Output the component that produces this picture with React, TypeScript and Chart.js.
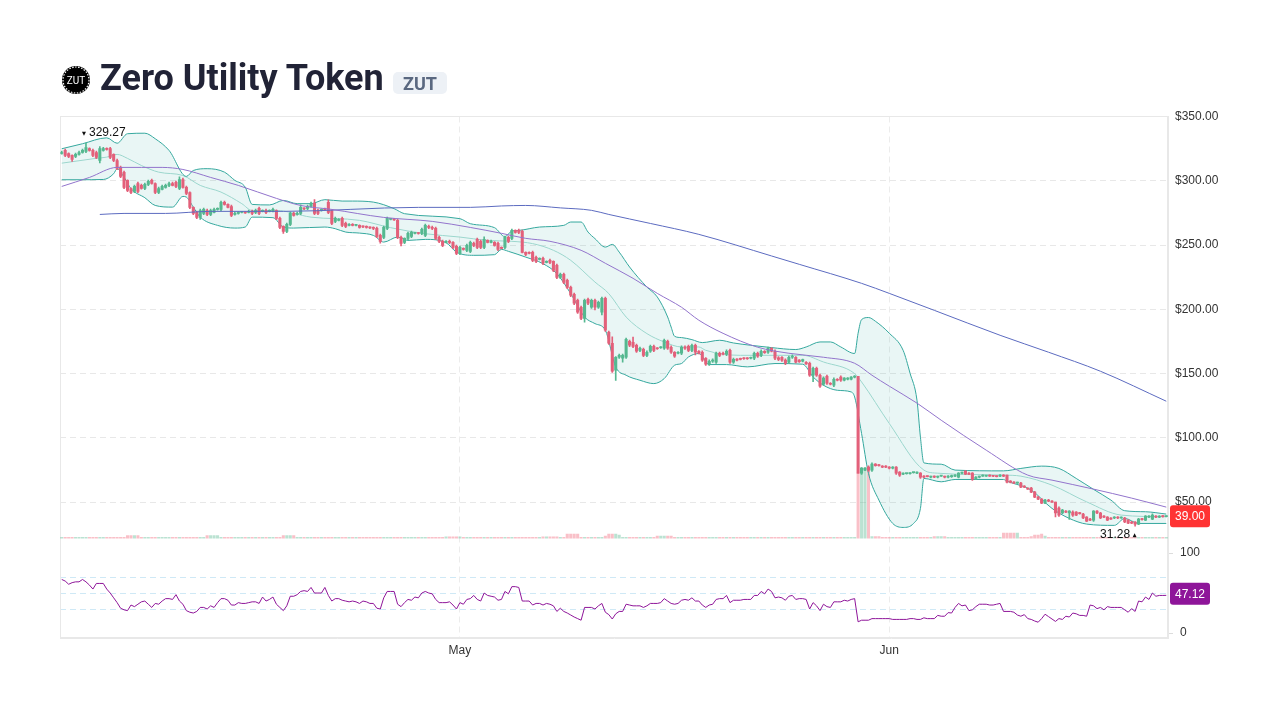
import { useEffect, useRef } from "react";
import Chart from "chart.js/auto";

const opens = [
  321.2,323.6,321.2,319.7,318.9,320.5,322,322.8,325.1,323.6,322,315.8,323.6,325.1,325.1,320.5,315.8,310.4,306.5,300.3,
  294,291.7,297.9,296.4,294,297.2,300.3,297.9,290.9,293.3,294.8,296.4,297.9,298.7,294,301,294.8,290.9,279.3,275.4,
  271.5,274.6,276.9,273.8,275.4,277.7,277.7,283.2,281.6,280,273.8,274.6,275.4,275.4,275.4,276.2,275.4,278.5,276.2,276.9,
  276.2,276.2,276.9,270.7,264.5,260.6,266.1,274.6,273.8,274.6,278.5,278.5,280,282.4,276.9,276.9,277.7,283.2,276.9,268.4,
  269.2,270.7,266.8,265.3,266.1,265.3,265.3,264.5,264.5,263.7,263.7,263,257.5,256,263,270,270.3,269.2,256,252.1,
  255.2,256.7,259.1,259.1,259.1,257.5,264.5,263.7,263,256,252.9,252.1,252.9,252.1,249,243.5,247.4,245.9,245.1,251.3,
  254.4,252.9,248.2,253.6,252.1,252.1,251.3,248.2,248.2,256,255.2,261.4,261.4,260.6,244.3,244.3,244.3,240.4,238.9,239.6,
  236.5,238.1,237.3,234.2,224.9,227.2,222.5,217.1,211.7,207,201.6,193,207.8,201.6,207,201.6,197.7,208.5,182.1,173.6,
  152.6,162.7,161.9,162.7,175.1,174.4,172,168.1,168.9,164.2,167.4,171.2,169.7,170.1,169.7,175.1,170.5,166.6,165.8,165.8,
  170.5,171.2,168.1,172,167.4,166.6,161.9,157.3,159.6,158.8,165.8,165.8,165,168.1,158.8,161.1,161.5,161.9,161.9,161.9,
  161.9,165.8,164.2,167.4,166.6,169.7,167.4,162.3,162.7,160.4,158.8,162.7,162.7,160.4,159.6,158.8,158,148.7,154.1,148.7,
  141.7,147.9,142.5,140.9,145.6,147.2,144.8,145.6,145.6,147.2,147.9,72.5,74.9,77.2,74.9,79.5,78.8,78,78,77.2,
  76.4,77.2,73.3,71.8,72.1,72.1,72.9,72.5,72.5,70.2,70.2,69.4,70.2,69.4,70.2,69.8,69.4,69.8,70.2,69.4,
  72.5,74.1,72.5,72.5,67.9,69.4,70.2,70.2,71,70.3,70.2,70.2,71,71,66.3,65.5,64.8,64.8,62.4,60.9,
  60.9,57.8,53.9,52.3,49.2,51.6,50.8,50,45.3,41.5,43,41.5,42.2,42.2,41.5,40.7,38.3,36.8,36,43,
  41.5,39.1,38.3,37.6,37.6,38.3,37.6,37.6,36,34.5,34.5,32.9,36.8,36,38.3,36.8,39.1,38.3,39.1,38.7,
];
const closes = [
  322,319.7,318.9,316.6,320.5,322,323.6,325.9,323.6,319.7,318.1,325.1,325.1,324.4,318.1,315.8,309.6,303.4,294.8,292.5,
  290.9,295.6,291.7,294,297.2,299.5,297.9,290.9,294,295.6,296.4,297.9,296.4,295.6,301,294.8,290.2,279.3,274.6,271.5,
  276.9,277.7,273.8,276.9,277.7,278.5,283.2,281.6,279.3,273,274.6,275.4,275.8,275,276.2,274.6,276.9,274.6,276.9,275.4,
  276.9,277.7,270.7,263.7,260.6,266.1,274.6,273,274.6,279.3,278.1,280,282.4,274.6,274.6,277.7,277.4,275.4,266.8,270.7,
  270,265.3,264.5,266.1,265.3,265.7,263.7,264.1,263.7,263.3,263,256.7,252.9,263.7,270.7,270,269.6,256,251.3,255.2,
  259.1,259.8,259.4,259,262.2,265.3,263.7,263,255.2,252.9,249.7,252.9,252.1,248.2,243.5,248.2,246.6,249.7,252.1,249.7,
  248.2,248.2,254.4,252.1,252.9,249.7,246.6,247.4,256,252.9,261.4,259.8,259.8,244.3,242.7,243.5,238.1,237.3,239.6,235.8,
  237.3,236.5,230.3,224.9,227.2,221,217.1,210.9,204.7,197.7,193,207,204.7,207,201.6,205.4,208.5,183.7,173.6,151.8,
  162.7,164.2,164.2,176.7,172,171.2,167.4,169.7,164.2,166.6,171.2,168.1,169.3,170.5,175.9,169.7,166.6,163.5,166.6,170.5,
  169.7,168.1,172,166.6,165.8,160.4,157.3,159.6,160.4,165.8,164.2,165,167.4,158.8,161.1,160.4,161.1,161.5,161.5,162.3,
  165.8,163.5,167.4,166.2,169.7,167.4,161.9,161.1,160.4,158,162.7,163.5,158.8,159.2,160.8,157.6,148.7,154.1,148.7,140.2,
  146.4,142.5,141.7,145.6,144.8,144.8,146.4,146.4,147.2,147.9,72.5,76.4,76.4,74.9,79.5,78.4,78.4,77.2,77.2,76.4,
  77.2,72.5,71,72.2,72.1,72.5,72.9,73.3,69.4,69.4,69.8,69.8,69.4,69.8,70.2,69.4,70.2,70.6,71,72.5,
  72.9,71.8,71.8,67.9,69.4,69.8,71,70.6,70.2,70.1,69.8,71,70.2,65.5,65.5,64.8,65.2,61.7,61.7,60.1,
  57.8,53.9,52.3,49.2,51.6,50.8,50,41.5,39.9,43.8,42.2,43,39.9,39.9,41.1,37.6,35.2,36,43,41.5,
  37.6,38.3,36,36.8,38.3,37.6,38.3,34.5,33.7,33.7,32.9,36.8,36.4,39.1,39.1,39.9,38.3,39.1,38.7,39,
];
// wick lengths above and below the candle body, in dollars
const wickUp = [
  1,1,0.5,0.5,1,1,1,3.37,0.5,1,1,1.5,1,0.5,1,0.5,1,1,1,0.5,
  0.5,1,1,1,1,1,1,0.5,1,1,1,1,1,1,2,1,1,0.5,0.5,1,
  1,1,1,1,1,0.5,1,1,0.5,1,1,0.5,0.5,0.5,1,1,1,1,0.5,1,
  0.5,1,0.5,1,0.5,1,1,1,1,2,0.5,1,1,3,1,0.5,1,2,0.5,1,
  0.5,1,1,0.5,0.5,0.5,0.5,0.5,0.5,0.5,0.5,1,1,1,1,0.5,0.5,1,1,0.5,
  1,1,0.5,0.5,1,1,1,1,1,1,1,0.5,1,0.5,1,1,0.5,1,1,1,
  1,1,2,0.5,1,0.5,1,0.5,1,1,1,0.5,1,1,0.5,0.5,1,1,0.5,1,
  0.5,1,0.5,1,1,1,1,1,1,1,1,1,1,1,1,1,1,1,1,5,
  0.5,1,1,1,1,4,1,1,1,1,1,1,0.5,0.5,1,1,1,0.5,0.5,1,
  1,1,1,1,0.5,1,0.5,1,1,1,1,1,1,1,1,0.5,0.5,0.5,0.5,0.5,
  1,1,1,0.5,1,0.5,1,1,0.5,1,1,1,0.5,0.5,0.5,0.5,1,1,1,1,
  1,1,0.5,1,0.5,1,0.5,0.5,0.5,0.5,0,0.5,0.5,1,1,0.5,0.5,0.5,0.5,0.5,
  0.5,0.5,0.5,0.5,0.3,0.3,0.3,0.3,0.5,0.5,0.3,0.5,0.3,0.5,0.3,0.5,0.5,0.5,0.5,0.5,
  0.5,0.5,0.5,0.5,0.5,0.5,0.3,0.3,0.3,0.3,0.3,0.5,0.5,0,0.5,0.5,0.3,0.5,0.5,0.3,
  0.5,0.5,0.5,0.5,0.5,0.5,0.3,0,1,0.5,0.5,0.5,1,0.5,0.5,0.5,0.5,0.5,0.5,0.5,
  0.5,0.5,0.5,0.3,0.5,0.5,0.3,0.5,0.5,0.5,0.3,0.5,0.5,0.5,0.5,1,0.5,0.5,0.5,0.3,
];
const wickDown = [
  0.5,1,1,1.5,1,0.5,0.5,1,0.5,1,1,2,0.5,0.5,1,1,1,1,1,1,
  1,1,1,0.5,1,1,0.5,1,1,0.5,0.5,1,0.5,1,1,0.5,1,1,1,1,
  1.5,1,1,1,0.5,0.5,1,0.5,0.5,1,0.5,0.5,0.5,0.5,0.5,1,1,1,0.5,1,
  0.5,0.5,1,1,1.5,1,1,0.5,0.5,1,0.5,1,0.5,1,1,0.5,0.5,1,1,1,
  0.5,1,1,0.5,0.5,0.5,0.5,0.5,0.5,0.5,1,1,1.5,1,1,0.5,0.5,1,2,1,
  1,1,0.5,0.5,1,1,1,1,1,1,1,0.5,1,1,1,1,0.5,1,1,1,
  1,1,1,0.5,0.5,0.5,1,0.5,1,1,1,0.5,1,0.5,1,0.5,1,1,0.5,1,
  0.5,1,1,1,1,1,1,1,1,1,1,3,1,1,2,1,2,1,1,1,
  8,1,3,1,1,1,1,1,1,1,1,1,0.5,0.5,1,1,1,1,0.5,1,
  1,1,1,2,0.5,1,1,1,1,1,1,0.5,1,1,1,0.5,0.5,0.5,0.5,0.5,
  1,1,1,0.5,1,0.5,1,1,1,1,1,1,0.5,0.5,0.5,0.5,1,5,1,1,
  1,1,0.5,1,0.5,1,0.5,0.5,0.5,0.5,0,1,0.5,1,1,0.5,0.5,0.5,0.5,0.5,
  0.5,1,1,0.5,0.3,0.3,0.3,0.3,1,0.5,0.3,0.5,0.3,0.5,0.3,0.5,0.5,0.5,0.5,0.5,
  0.5,0.5,0.5,1,0.5,0.5,0.3,0.3,0.3,0.3,0.3,0.5,0.5,0.5,0.5,0.5,0.3,0.5,0.5,0.3,
  0.5,0.5,0.5,0.5,0.5,0.5,0.3,3,1,0.5,0.5,5,1,0.5,0.5,0.5,0.5,0.5,1,0.5,
  0.5,0.5,0.5,0.3,0.5,0.5,0.3,0.5,0.5,0.5,1.62,0.5,0.5,0.5,0.5,0.5,0.5,0.5,0.5,0.3,
];
const volumes = [
  0.8,0.8,0.8,0.8,0.8,0.8,0.8,0.8,0.8,0.8,0.8,0.8,0.8,0.8,0.8,0.8,0.8,0.8,0.8,2.5,
  2.5,2.5,2.5,0.8,0.8,0.8,0.8,0.8,0.8,0.8,0.8,0.8,0.8,0.8,0.8,0.8,0.8,0.8,0.8,0.8,
  0.8,0.8,2.5,2.5,2.5,2.5,0.8,0.8,0.8,0.8,0.8,0.8,0.8,0.8,0.8,0.8,0.8,0.8,0.8,0.8,
  0.8,0.8,0.8,0.8,2.5,2.5,2.5,2.5,0.8,0.8,0.8,0.8,0.8,0.8,0.8,0.8,0.8,0.8,0.8,0.8,
  0.8,0.8,0.8,0.8,0.8,0.8,0.8,0.8,0.8,0.8,0.8,0.8,0.8,0.8,0.8,0.8,0.8,0.8,0.8,0.8,
  0.8,0.8,0.8,0.8,0.8,0.8,0.8,0.8,0.8,0.8,0.8,1.3,1.3,1.3,1.3,1.3,0.8,0.8,0.8,0.8,
  0.8,0.8,0.8,0.8,0.8,0.8,0.8,0.8,0.8,0.8,0.8,0.8,0.8,0.8,0.8,0.8,0.8,0.8,0.8,1.3,
  1.3,1.3,1.3,1.3,0.8,0.8,4,4,4,4,0.8,0.8,0.8,0.8,0.8,0.8,0.8,2,4,4,
  4,3,0.8,0.8,0.8,0.8,0.8,0.8,0.8,0.8,0.8,0.8,2,2,2,2,2,0.8,0.8,0.8,
  0.8,0.8,0.8,0.8,0.8,0.8,0.8,0.8,0.8,0.8,0.8,0.8,0.8,0.8,0.8,0.8,0.8,0.8,0.8,0.8,
  0.8,0.8,0.8,0.8,0.8,0.8,0.8,0.8,0.8,0.8,0.8,0.8,0.8,0.8,0.8,0.8,0.8,0.8,0.8,0.8,
  0.8,0.8,0.8,0.8,0.8,0.8,0.8,0.8,0.8,0.8,65,70,70,71,1.5,1.5,1.5,0.8,0.8,0.8,
  0.8,0.8,0.8,0.8,0.8,0.8,0.8,0.8,0.8,0.8,0.8,0.8,1.5,1.5,1.5,1.5,0.8,0.8,0.8,0.8,
  0.8,0.8,0.8,0.8,0.8,0.8,0.8,0.8,0.8,0.8,0.8,0.8,5,5,5,5,5,0.8,0.8,0.8,
  1.5,3,3,4,2,0.8,0.8,0.8,0.8,0.8,0.8,0.8,0.8,0.8,0.8,0.8,0.8,0.8,0.8,0.8,
  0.8,0.8,0.8,0.8,0.8,0.8,0.8,0.8,0.8,0.8,0.8,0.8,0.8,0.8,0.8,0.8,0.8,0.8,0.8,0.8,
];
const rsi = [
  67,65,61,63,64,64,67,64,60,55,62,62,62,55,50,44,38,31,29,28,
  35,33,36,39,40,36,32,37,36,40,43,43,42,48,40,36,28,26,25,27,
  32,32,30,34,32,38,43,43,41,35,35,38,37,37,38,39,39,37,45,40,
  42,45,36,32,28,34,46,46,48,52,53,52,57,50,50,50,57,47,40,43,
  43,41,40,39,40,39,37,40,39,37,37,31,30,44,52,52,52,36,33,38,
  42,41,45,44,50,52,50,49,42,38,38,38,39,35,30,38,36,42,43,47,
  42,40,50,47,46,45,41,42,52,49,58,58,57,40,40,40,35,37,37,35,
  37,36,34,27,31,27,25,22.5,20,18,16,32,32,32,30,34,37,26,23,17.5,
  24,27,27,36,35,34,34,34,32,34,37,37,37,38,43,40,37,36,37,41,
  42,41,44,40,40,35,32,35,36,42,43,43,47,38,41,41,41,42,42,42,
  47,47,52,49,55,52,44,45,44,41,46,47,42,43,43,42,30,38,34,28,
  36,33,32,39,39,39,41,40,42,43,14,16,16,16,18,18,18,18,18,18,
  17,17,17,17,17,18,18,17,17,19,18,18,18,22,21,21,25.5,25,32,37,
  34,35,28,29,33,36,36,36,35,35,36,37,27,27,27,26,22.5,21,23,18,
  17,15,13.5,18,23.5,20.5,17.5,14.5,18,17,21,20,25,24,22,22,21,35,34,30.5,
  32,29,33,32,32,32,32,29,26,30.5,27,40,39,45,42,50,46,47,47,47.12,
];

const upperIdx = [0,6,13,16,19,24,27,31,36,38,42,47,50,53,55,60,64,68,72,76,81,84,90,96,99,115,118,125,128,130,132,138,145,147,150,152,154,157,159,161,164,169,172,175,176,177,179,182,185,190,194,199,205,212,215,219,222,225,229,230,231,233,235,239,243,245,247,248,249,254,258,272,277,283,288,293,298,303,307,313,319];
const upperBand = [324.9,328.8,333.4,329.2,336.6,337,332.7,323.6,303.4,308,309.4,306.7,300.3,295,281.6,281.2,284.7,282.2,282.2,285.3,284.2,284.2,283.4,278.3,274.4,270.5,266.6,263.5,256.5,260.9,261.4,264,265.3,267.9,267.9,260.1,255,248.4,250.5,244.5,232.9,217.3,209.6,194,186.2,179,178,176.4,174.1,175.9,173.8,172,170.2,168.7,170.7,174.6,174.6,170.7,165.6,181.4,192,193.6,190.7,181.4,168.1,150.3,129.3,100.5,80.5,79.5,74.9,74.3,76.2,78,76.2,68.4,59.9,51.6,43.3,42.5,40.7];
const lowerIdx = [0,5,12,15,16,18,20,24,27,32,35,36,38,40,45,50,53,55,61,64,67,76,79,82,86,90,93,97,100,105,111,114,119,125,127,129,134,139,143,147,151,154,157,160,163,167,171,174,177,179,181,184,187,192,198,206,214,217,220,224,228,229,231,233,236,240,243,246,248,249,254,258,272,273,280,286,291,296,304,307,311,319];
const lowerBand = [300.8,300.8,301,305.5,309.4,302.8,293.8,286.8,280.8,279.5,287.8,287.3,279.5,271.7,265.3,263.2,264,271.7,271.3,264,263.2,264,262.7,260.1,259.3,257.5,252.3,256.2,253.6,254.4,251.8,244.5,242,242.5,246.6,245.1,240.6,235.5,227.7,212.2,194,188.9,183.7,155.2,148.7,144.8,142.2,146.1,156.5,157.8,162.9,165.6,157,157,155.2,157.8,157.3,147.4,140.9,137,135.7,131.8,103.4,72.3,51.6,33.4,30.3,33.4,45.1,68.4,65.8,67.6,67.6,66.3,59.3,45.1,37.3,32.9,31.9,37.3,33.4,33.4];
const midIdx = [0,9,13,16,19,23,28,35,40,46,52,55,62,72,86,95,105,115,123,130,136,142,147,154,158,163,169,174,179,184,186,196,206,214,220,229,231,239,249,253,272,277,286,296,306,319];
const midBand = [313.7,317.1,318.4,320.5,317.4,311.9,306.7,304.1,296.4,291.2,282.2,276.9,276.9,271.7,269.2,263.5,258.8,256.2,253.6,252.9,251.1,245.9,238.1,221.2,212.2,194,181.1,174.6,170.7,170.7,168.1,164.2,164.2,164.2,159,150,143.5,111.2,74.9,72.5,71,70.2,63.2,50.2,39.9,38.6];
const fastMaIdx = [0,8,16,23,29,35,43,51,62,69,78,93,107,118,127,134,141,150,157,165,172,179,184,191,201,210,220,229,234,239,247,254,267,279,286,298,309,319];
const fastMa = [295.6,302.6,310.4,310.4,310.4,308.8,302.6,296.4,286.3,280.8,277.7,271.5,268.4,263.7,259.1,255.2,252.9,245.9,235.8,224.1,212.4,201.6,191.5,181.3,170.5,165.8,162.7,158,148.7,140.2,127,113.7,90.4,71,67.1,60.1,53.1,46.1];
const slowMaIdx = [11,18,30,43,64,103,118,127,134,144,153,158,170,184,205,213,231,239,252,271,285,300,319];
const slowMa = [273.8,274.6,274.6,276.2,276.2,279.3,279.3,280.4,280.8,278.9,277,273.8,266.8,258.3,241.5,235,220.2,212.4,199.2,179.8,166.6,151.8,128.5];

const priceTicks = [350, 300, 250, 200, 150, 100, 50];
const rsiTicks = [100, 70, 50, 30, 0];
const monthTicks = [
  { stamp: "2025-05-01T00:00", name: "May" },
  { stamp: "2025-06-01T00:00", name: "Jun" },
];

const UP = "#55b890";
const DOWN = "#e3607a";
const FONT = "'Liberation Sans', Arial, sans-serif";

const stamps = opens.map((_, i) =>
  new Date(Date.UTC(2025, 3, 2, 6) + i * 6 * 3600 * 1000).toISOString().slice(0, 16)
);
const highs = opens.map((o, i) => Math.max(o, closes[i]) + wickUp[i]);
const lows = opens.map((o, i) => Math.min(o, closes[i]) - wickDown[i]);
const isUp = (i: number) => closes[i] >= opens[i];
const toLine = (idx: number[], vals: number[]) => idx.map((k, i) => ({ x: stamps[k], y: vals[i] }));

const lineBase = {
  type: "line", yAxisID: "yPrice", pointRadius: 0, borderWidth: 1, cubicInterpolationMode: "monotone",
};

const overlayPlugin = {
  id: "overlay",
  beforeDatasetsDraw(chart: any) {
    const { ctx, chartArea: a } = chart;
    const top = Math.floor(a.top);
    ctx.save();
    ctx.strokeStyle = "#e8e8e8";
    ctx.lineWidth = 1;
    ctx.strokeRect(a.left + 0.5, top + 0.5, a.width - 1, Math.floor(a.bottom) - top - 1);
    ctx.restore();
  },
  afterDraw(chart: any) {
    const { ctx, chartArea: a, scales } = chart;
    const tag = (value: number, text: string, color: string, scale: any, nudge: number) => {
      const y = scale.getPixelForValue(value) + nudge;
      ctx.fillStyle = color;
      ctx.beginPath();
      ctx.roundRect(a.right + 2, y - 11, 40, 22, 3);
      ctx.fill();
      ctx.fillStyle = "#fff";
      ctx.font = `12px ${FONT}`;
      ctx.textAlign = "center";
      ctx.textBaseline = "middle";
      ctx.fillText(text, a.right + 22, y + 0.5);
    };
    ctx.save();
    tag(closes[closes.length - 1], closes[closes.length - 1].toFixed(2), "#ff3333", scales.yPrice, 0);
    tag(rsi[rsi.length - 1], rsi[rsi.length - 1].toFixed(2), "#8e1599", scales.yRsi, -1.5);

    const hi = highs.indexOf(Math.max(...highs));
    const lo = lows.indexOf(Math.min(...lows));
    const hx = scales.x.getPixelForValue(hi);
    const hy = scales.yPrice.getPixelForValue(highs[hi]);
    const lx = scales.x.getPixelForValue(lo);
    const ly = scales.yPrice.getPixelForValue(lows[lo]);
    ctx.fillStyle = "#111";
    ctx.font = `12px ${FONT}`;
    ctx.textBaseline = "middle";
    ctx.textAlign = "left";
    ctx.fillText(highs[hi].toFixed(2), hx + 3, hy - 10);
    ctx.textAlign = "right";
    ctx.fillText(lows[lo].toFixed(2), lx - 5, ly + 8.5);
    ctx.beginPath();
    ctx.moveTo(hx - 4, hy - 11.5);
    ctx.lineTo(hx, hy - 11.5);
    ctx.lineTo(hx - 2, hy - 7.5);
    ctx.closePath();
    ctx.moveTo(lx - 2.5, ly + 11);
    ctx.lineTo(lx + 1.5, ly + 11);
    ctx.lineTo(lx - 0.5, ly + 7);
    ctx.closePath();
    ctx.fill();
    ctx.restore();
  },
};

export default function App() {
  const canvasRef = useRef<HTMLCanvasElement>(null);

  useEffect(() => {
    document.body.style.margin = "0";
    if (!canvasRef.current) return;

    const chart = new Chart(canvasRef.current, {
      data: {
        labels: stamps,
        datasets: [
          {
            ...lineBase, label: "BB upper", data: toLine(upperIdx, upperBand),
            borderColor: "#35a89e", fill: { target: "+1" }, backgroundColor: "rgba(38,166,154,0.1)", order: 4,
          },
          { ...lineBase, label: "BB lower", data: toLine(lowerIdx, lowerBand), borderColor: "#35a89e", order: 4 },
          { ...lineBase, label: "BB basis", data: toLine(midIdx, midBand), borderColor: "#a9dcd3", order: 4 },
          {
            type: "bar", label: "Wick", yAxisID: "yPrice", grouped: false, barThickness: 1, order: 2,
            data: opens.map((_, i) => [lows[i], highs[i]]),
            backgroundColor: opens.map((_, i) => (isUp(i) ? UP : DOWN)),
          },
          {
            type: "bar", label: "Candle", yAxisID: "yPrice", grouped: false, barThickness: 2.4, minBarLength: 1, order: 1,
            data: opens.map((o, i) => [o, closes[i]]),
            backgroundColor: opens.map((_, i) => (isUp(i) ? UP : DOWN)),
          },
          { ...lineBase, label: "MA fast", data: toLine(fastMaIdx, fastMa), borderColor: "#9274cc", order: 0 },
          { ...lineBase, label: "MA slow", data: toLine(slowMaIdx, slowMa), borderColor: "#5c6bc0", order: 0 },
          {
            type: "bar", label: "Volume", yAxisID: "yVol", grouped: false, barThickness: 2.4, order: 5,
            data: volumes,
            backgroundColor: volumes.map((_, i) => (isUp(i) ? "rgba(77,179,138,0.38)" : "rgba(240,90,110,0.38)")),
          },
          {
            type: "line", label: "RSI", yAxisID: "yRsi", data: rsi, borderColor: "#8e1599",
            borderWidth: 1, pointRadius: 0, order: 0,
          },
        ],
      } as any,
      options: {
        responsive: false,
        animation: false,
        events: [],
        layout: { padding: { left: 60, top: 116.5, right: 52, bottom: 60 } },
        plugins: { legend: { display: false }, tooltip: { enabled: false }, title: { display: false } },
        scales: {
          x: {
            type: "category",
            offset: true,
            afterFit: (s: any) => { s.height = 22; },
            afterBuildTicks: (s: any) => {
              s.ticks = monthTicks.map(m => ({ value: stamps.indexOf(m.stamp) }));
            },
            grid: { offset: false, color: "#ececec", drawTicks: false },
            border: { color: "#e8e8e8", dash: [6, 4] },
            ticks: {
              autoSkip: false,
              maxRotation: 0,
              padding: 5,
              color: "#333",
              font: { family: FONT, size: 12 },
              callback: (v: any) => monthTicks.find(m => m.stamp === stamps[v])?.name ?? "",
            },
          },
          yPrice: {
            position: "right",
            stack: "panes",
            stackWeight: 422,
            min: 22,
            max: 350,
            afterFit: (s: any) => { s.width = 60; },
            afterBuildTicks: (s: any) => { s.ticks = priceTicks.map(value => ({ value })); },
            grid: { color: "#e8e8e8", tickColor: "transparent", tickLength: 5 },
            border: { color: "#e8e8e8", dash: [6, 4] },
            ticks: {
              autoSkip: false,
              padding: 2,
              color: "#333",
              font: { family: FONT, size: 12 },
              callback: (v: any) => `$${Number(v).toFixed(2)}`,
            },
          },
          yRsi: {
            position: "right",
            stack: "panes",
            stackWeight: 100,
            min: -6.25,
            max: 118.75,
            afterFit: (s: any) => { s.width = 60; },
            afterBuildTicks: (s: any) => { s.ticks = rsiTicks.map(value => ({ value })); },
            grid: {
              color: (c: any) => (c.tick && c.tick.value > 0 && c.tick.value < 100 ? "#cfe9f6" : "transparent"),
              tickColor: (c: any) => (c.tick && (c.tick.value === 0 || c.tick.value === 100) ? "#dcdcdc" : "transparent"),
              tickLength: 5,
            },
            border: { color: "#e8e8e8", dash: [6, 4] },
            ticks: {
              autoSkip: false,
              padding: 7,
              color: "#333",
              font: { family: FONT, size: 12 },
              callback: (v: any) => (v === 0 || v === 100 ? String(v) : ""),
            },
          },
          // volume hangs off the price pane: 0 sits at the pane's bottom edge
          yVol: { display: false, position: "right", min: -100, max: 422 },
        },
      } as any,
      plugins: [overlayPlugin],
    });

    return () => chart.destroy();
  }, []);

  return (
    <div style={{ position: "relative", width: 1280, height: 720, overflow: "hidden", background: "#fff" }}>
      <canvas ref={canvasRef} width={1280} height={720} style={{ position: "absolute", left: 0, top: 0 }} />
      <svg width="28" height="28" viewBox="0 0 28 28" style={{ position: "absolute", left: 62, top: 66 }}>
        <circle cx="14" cy="14" r="14" fill="#000" />
        <circle cx="14" cy="14" r="13" fill="none" stroke="#fff" strokeWidth="1.2" strokeDasharray="1.5 1.5" />
        <text x="14" y="17.5" textAnchor="middle" fill="#fff" fontFamily="Roboto" fontSize="10">ZUT</text>
      </svg>
      <div
        style={{
          position: "absolute", left: 100, top: 57, lineHeight: "42px", fontFamily: "Roboto",
          fontWeight: 700, fontSize: 36, color: "#212336", whiteSpace: "nowrap",
        }}
      >
        Zero Utility Token
      </div>
      <div
        style={{
          position: "absolute", left: 393, top: 72, width: 54, height: 22, borderRadius: 5, background: "#edf1f6",
          color: "#5a6880", fontFamily: "Roboto", fontWeight: 700, fontSize: 18, lineHeight: "23px", textAlign: "center",
        }}
      >
        ZUT
      </div>
    </div>
  );
}
